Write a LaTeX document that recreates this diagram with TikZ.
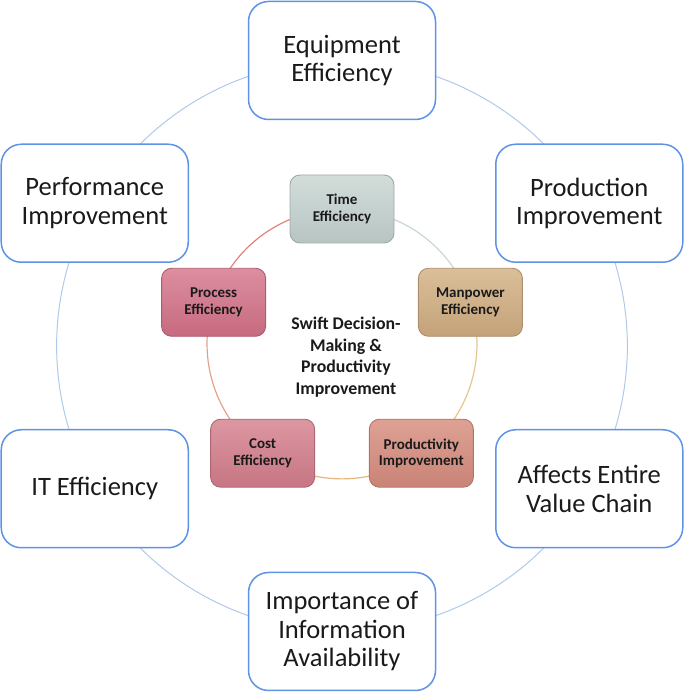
\documentclass[tikz,border=0pt]{standalone}
\usepackage{fontspec}
\setmainfont{Carlito}
\usetikzlibrary{backgrounds}
\definecolor{outerblue}{HTML}{5F93E6}
\definecolor{ringblue}{HTML}{AFC9EA}
\definecolor{txt}{HTML}{1A1A1A}
\definecolor{timeTop}{HTML}{D2DDDA}\definecolor{timeBot}{HTML}{B7C5C2}\definecolor{timeLine}{HTML}{9EAAA7}
\definecolor{manTop}{HTML}{DABF99}\definecolor{manBot}{HTML}{C4A27A}\definecolor{manLine}{HTML}{AD8E6C}
\definecolor{proTop}{HTML}{DEA294}\definecolor{proBot}{HTML}{C98377}\definecolor{proLine}{HTML}{B07468}
\definecolor{costTop}{HTML}{DC98A2}\definecolor{costBot}{HTML}{C77583}\definecolor{costLine}{HTML}{AE6673}
\definecolor{procTop}{HTML}{DD8EA0}\definecolor{procBot}{HTML}{C66A80}\definecolor{procLine}{HTML}{AD5C70}
\definecolor{arcA}{HTML}{C9D7D3}
\definecolor{arcB}{HTML}{E4C68E}
\definecolor{arcC}{HTML}{E6B47E}
\definecolor{arcD}{HTML}{E8A08A}
\definecolor{arcE}{HTML}{E08279}
\tikzset{
  outerbox/.style={draw=outerblue, line width=1.5pt, fill=white, rounded corners=20pt,
    minimum width=187pt, minimum height=118pt, align=center, text=txt,
    font=\fontsize{26.5}{28.5}\selectfont},
  innerbox/.style={rounded corners=10pt, line width=0.9pt, minimum width=104pt, minimum height=68pt,
    align=center, text=txt, font=\bfseries\fontsize{15}{16.5}\selectfont},
  ringarc/.style={ringblue, line width=1pt, bend left=30, looseness=0.913},
  innerarc/.style={line width=1.2pt, bend left=36, looseness=0.941},
}
\begin{document}
\begin{tikzpicture}[x=1pt,y=1pt]
\useasboundingbox (0,0) rectangle (685,694);
% outer ring
\begin{scope}[shift={(342,348)}]
\node[outerbox] (eq) at (90:285.5)  {Equipment\\Efficiency};
\node[outerbox] (pr) at (30:285.5)  {Production\\Improvement};
\node[outerbox] (av) at (-30:285.5) {Affects Entire\\Value Chain};
\node[outerbox] (ia) at (-90:285.5) {Importance of\\Information\\Availability};
\node[outerbox] (it) at (210:285.5) {IT Efficiency};
\node[outerbox] (pe) at (150:285.5) {Performance\\Improvement};
\end{scope}
% inner ring
\begin{scope}[shift={(342,350)}]
\node[innerbox, draw=timeLine, top color=timeTop, bottom color=timeBot] (te) at (90:135) {Time\\Efficiency};
\node[innerbox, draw=manLine, top color=manTop, bottom color=manBot] (me) at (18:135) {Manpower\\Efficiency};
\node[innerbox, draw=proLine, top color=proTop, bottom color=proBot] (pi) at (-54:135) {Productivity\\Improvement};
\node[innerbox, draw=costLine, top color=costTop, bottom color=costBot] (ce) at (-126:135) {Cost\\Efficiency};
\node[innerbox, draw=procLine, top color=procTop, bottom color=procBot] (pc) at (162:135) {Process\\Efficiency};
\end{scope}
\node[align=center, text=txt, font=\bfseries\fontsize{17.8}{21.5}\selectfont] (ct) at (346,337)
  {Swift Decision-\\Making \&\\Productivity\\Improvement};
\begin{scope}[on background layer]
\draw[ringarc] (eq.center) to (pr.center);
\draw[ringarc] (pr.center) to (av.center);
\draw[ringarc] (av.center) to (ia.center);
\draw[ringarc] (ia.center) to (it.center);
\draw[ringarc] (it.center) to (pe.center);
\draw[ringarc] (pe.center) to (eq.center);
\draw[innerarc, arcA] (te.center) to (me.center);
\draw[innerarc, arcB] (me.center) to (pi.center);
\draw[innerarc, arcC] (pi.center) to (ce.center);
\draw[innerarc, arcD] (ce.center) to (pc.center);
\draw[innerarc, arcE] (pc.center) to (te.center);
\end{scope}
\end{tikzpicture}
\end{document}
